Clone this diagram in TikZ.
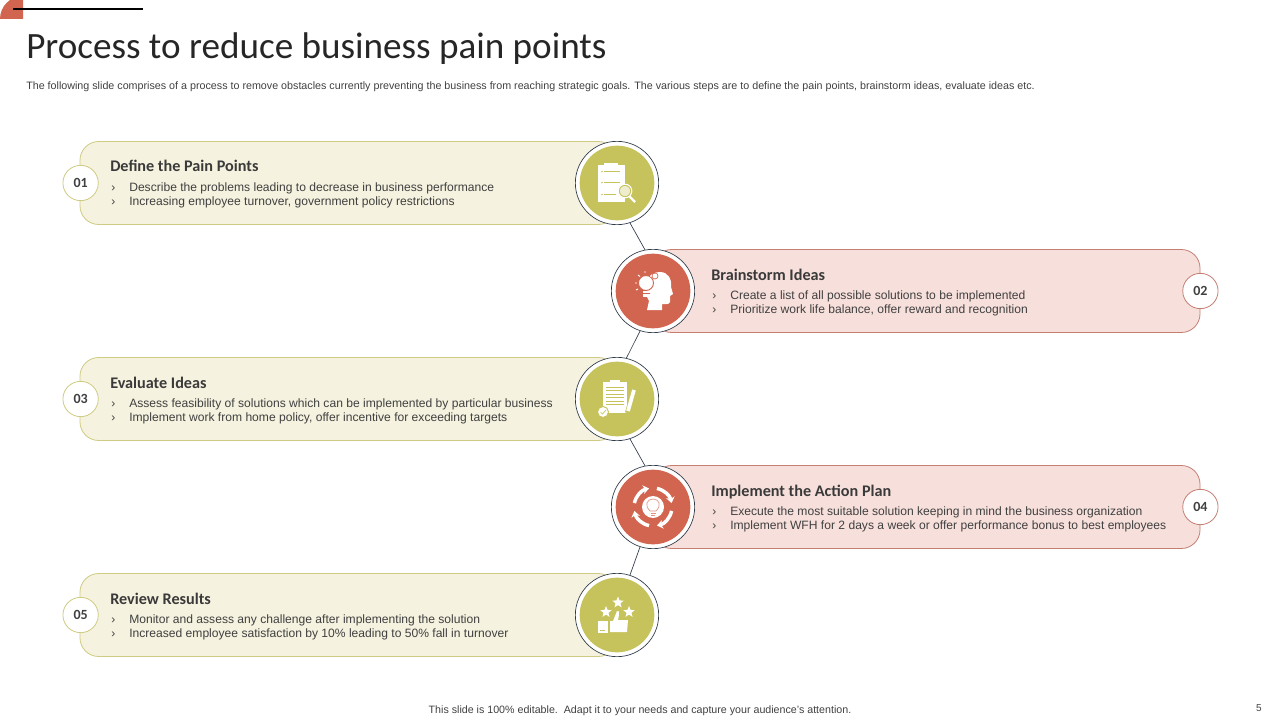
\documentclass[tikz,border=0pt]{standalone}
\usepackage{fontspec}
\usepackage[dvipsnames]{xcolor}
\setmainfont{Liberation Sans}
\newfontfamily\headfont{Carlito}
\usetikzlibrary{shapes.geometric,arrows.meta}
\definecolor{olive}{HTML}{C6C25C}
\definecolor{olivepale}{HTML}{F5F2DF}
\definecolor{olivedge}{HTML}{CFCB82}
\definecolor{brick}{HTML}{D2654F}
\definecolor{brickpale}{HTML}{F7E0DB}
\definecolor{brickedge}{HTML}{C47F72}
\definecolor{ringline}{HTML}{2F3A48}
\definecolor{inktext}{HTML}{404040}
\tikzset{
  card/.style={rectangle,rounded corners=14pt,draw,line width=.6pt,minimum height=62.25pt,inner sep=0pt},
  oldcard/.style={card,fill=olivepale,draw=olivedge,minimum width=402.75pt},
  redcard/.style={card,fill=brickpale,draw=brickedge,minimum width=410.25pt},
  hub/.style={circle,draw=ringline,fill=white,line width=.5pt,minimum size=62.5pt,inner sep=0pt},
  disc/.style={circle,minimum size=56pt,inner sep=0pt},
  badge/.style={circle,fill=white,line width=.6pt,minimum size=26.5pt,inner sep=0pt,text=inktext,font=\headfont\bfseries\fontsize{10.5}{12}\selectfont},
  heading/.style={anchor=base west,inner sep=0pt,text=inktext!90!black,font=\headfont\bfseries\fontsize{12.15}{14}\selectfont},
  body/.style={anchor=base west,inner sep=0pt,text=inktext,font=\fontsize{9.07}{11}\selectfont},
  tick/.style={anchor=base west,inner sep=0pt,text=inktext,font=\fontsize{9}{11}\selectfont},
  small/.style={anchor=base west,inner sep=0pt,text=inktext,font=\fontsize{8.04}{10}\selectfont},
  link/.style={draw=ringline,line width=.5pt},
  iconstar/.style={star,star points=5,star point ratio=2.3,fill=white,inner sep=0pt,minimum size=9pt},
  turn/.style={white,line width=2.6pt,-{Stealth[length=4.5pt,width=6.5pt]}}
}
\begin{document}
\begin{tikzpicture}[x=.75pt,y=-.75pt]
\useasboundingbox (0,0) rectangle (1280,720);

% corner mark
\fill[brick] (0,19) arc[start angle=180,end angle=270,radius=23] -- (23,19) -- cycle;
\draw[black,line width=2.2pt] (13,9) -- (143,9);

\node[anchor=base west,inner sep=0pt,text=black!85,font=\headfont\fontsize{27.85}{32}\selectfont] (title) at (26,58.5) {Process to reduce business pain points};
\node[small] (intro) at (26,89.5) {The following slide comprises of a process to remove obstacles currently preventing the business from reaching strategic goals. The various steps are to define the pain points, brainstorm ideas, evaluate ideas etc.};

% cards
\node[oldcard] (card1) at (348.5,183) {};
\node[redcard] (card2) at (926.5,291) {};
\node[oldcard] (card3) at (348.5,399) {};
\node[redcard] (card4) at (926.5,507) {};
\node[oldcard] (card5) at (348.5,615) {};

% hubs
\node[hub] (hub1) at (617,183) {};
\node[hub] (hub2) at (653,291) {};
\node[hub] (hub3) at (617,399) {};
\node[hub] (hub4) at (653,507) {};
\node[hub] (hub5) at (617,615) {};
\node[disc,fill=olive] (disc1) at (hub1) {};
\node[disc,fill=brick] (disc2) at (hub2) {};
\node[disc,fill=olive] (disc3) at (hub3) {};
\node[disc,fill=brick] (disc4) at (hub4) {};
\node[disc,fill=olive] (disc5) at (hub5) {};

\draw[link] (hub1.-72) -- (hub2.101);
\draw[link] (hub2.252) -- (hub3.77);
\draw[link] (hub3.-72) -- (hub4.101);
\draw[link] (hub4.252) -- (hub5.72);

% number badges
\node[badge,draw=olivedge,xshift=.75pt] (badge1) at (card1.west) {01};
\node[badge,draw=brickedge] (badge2) at (card2.east) {02};
\node[badge,draw=olivedge,xshift=.75pt] (badge3) at (card3.west) {03};
\node[badge,draw=brickedge] (badge4) at (card4.east) {04};
\node[badge,draw=olivedge,xshift=.75pt] (badge5) at (card5.west) {05};

% texts
\node[heading] (head1) at (110,172) {Define the Pain Points};
\node[tick] (tick1a) at (111,191.5) {›};
\node[body] (text1a) at (129,191.5) {Describe the problems leading to decrease in business performance};
\node[tick] (tick1b) at (111,205.5) {›};
\node[body] (text1b) at (129,205.5) {Increasing employee turnover, government policy restrictions};

\node[heading] (head2) at (711,280) {Brainstorm Ideas};
\node[tick] (tick2a) at (712,299.5) {›};
\node[body] (text2a) at (730,299.5) {Create a list of all possible solutions to be implemented};
\node[tick] (tick2b) at (712,313.5) {›};
\node[body] (text2b) at (730,313.5) {Prioritize work life balance, offer reward and recognition};

\node[heading] (head3) at (110,388) {Evaluate Ideas};
\node[tick] (tick3a) at (111,407.5) {›};
\node[body] (text3a) at (129,407.5) {Assess feasibility of solutions which can be implemented by particular business};
\node[tick] (tick3b) at (111,421.5) {›};
\node[body] (text3b) at (129,421.5) {Implement work from home policy, offer incentive for exceeding targets};

\node[heading] (head4) at (711,496) {Implement the Action Plan};
\node[tick] (tick4a) at (712,515.5) {›};
\node[body] (text4a) at (730,515.5) {Execute the most suitable solution keeping in mind the business organization};
\node[tick] (tick4b) at (712,529.5) {›};
\node[body] (text4b) at (730,529.5) {Implement WFH for 2 days a week or offer performance bonus to best employees};

\node[heading] (head5) at (110,604) {Review Results};
\node[tick] (tick5a) at (111,623.5) {›};
\node[body] (text5a) at (129,623.5) {Monitor and assess any challenge after implementing the solution};
\node[tick] (tick5b) at (111,637.5) {›};
\node[body] (text5b) at (129,637.5) {Increased employee satisfaction by 10\% leading to 50\% fall in turnover};

% icon 1
\fill[white] (598,165) rectangle (625,202);
\fill[white] (604,163) rectangle (618,167);
\draw[olive,line width=.5pt] (604,171) -- (620,171) (604,182) -- (620,182) (604,194) -- (616,194);
\draw[olive,line width=.5pt] (601,172) -- (603,171) (601,183) -- (603,182) (601,195) -- (603,194);
\draw[white,line width=1.8pt] (629,196) -- (635,202);
\draw[olive,fill=olive!30!white,line width=1.2pt] (625,191) circle[radius=6];
\draw[white,line width=.8pt] (625,191) circle[radius=6.8];

% icon 2
\fill[white] (647,310) -- (649,301) .. controls (640,285) and (648,272) .. (660,272)
  .. controls (668,272) and (672,279) .. (671,287) -- (673,294) -- (670,296) -- (670,302)
  .. controls (669,305) and (665,304) .. (662,304) -- (662,310) -- cycle;
\draw[brick,fill=white,line width=.7pt] (646,283) circle[radius=7.5];
\fill[white] (643,291) rectangle (649,297);
\draw[brick,line width=.5pt] (642.5,293.5) -- (649.5,293.5);
\draw[white,line width=.7pt] (635,283) -- (637,283) (638,275) -- (640,276.5) (645,271) -- (645,273) (652,275) -- (650.5,276.5) (636,290) -- (638,289);
\draw[brick,line width=.5pt] (655,276) circle[radius=3];

% icon 3
\fill[white] (603,382) rectangle (627,413);
\fill[white] (610,380) rectangle (620,384);
\draw[olive,line width=.5pt] (606,387) -- (624,387) (606,390.5) -- (624,390.5) (606,394) -- (624,394) (606,397.5) -- (624,397.5) (606,401) -- (624,401) (606,404.5) -- (624,404.5);
\draw[olive,line width=4pt] (627.5,413) -- (634.5,390);
\draw[white,line width=2.8pt] (628,411) -- (634,390);
\draw[olive,fill=white,line width=.7pt] (603,412) circle[radius=5.5];
\draw[olive,line width=.5pt] (600.5,412) -- (602.5,414) -- (606,410);

% icon 4
\draw[turn] (653,507) ++(-78:19) arc[start angle=-78,end angle=-12,radius=19];
\draw[turn] (653,507) ++(12:19) arc[start angle=12,end angle=78,radius=19];
\draw[turn] (653,507) ++(102:19) arc[start angle=102,end angle=168,radius=19];
\draw[turn] (653,507) ++(192:19) arc[start angle=192,end angle=258,radius=19];
\fill[white] (653,507) circle[radius=11];
\draw[brick!70!white,line width=.5pt] (650,511) .. controls (644,505) and (647,499) .. (653,499) .. controls (659,499) and (662,505) .. (656,511) -- cycle;
\draw[brick!70!white,line width=.5pt] (650.5,513) -- (655.5,513) (651,515) -- (655,515);

% icon 5
\node[iconstar] (star1) at (618,602.5) {};
\node[iconstar] (star2) at (606,612) {};
\node[iconstar] (star3) at (629,612) {};
\fill[white] (598,621) rectangle (608,633);
\fill[white] (610,621) -- (613,621) -- (617,611) .. controls (620,609) and (619,616) .. (618,620) -- (628,620) -- (627,632) -- (610,632) -- cycle;
\draw[olive,line width=.5pt] (600,630) -- (605,630);

\node[anchor=base,inner sep=0pt,text=inktext,font=\fontsize{8}{10}\selectfont] (footer) at (640,713) {This slide is 100\% editable.\ \ Adapt it to your needs and capture your audience’s attention.};
\node[anchor=base,inner sep=0pt,text=inktext,font=\fontsize{7.5}{9}\selectfont] (pageno) at (1259,711) {5};

\end{tikzpicture}
\end{document}
